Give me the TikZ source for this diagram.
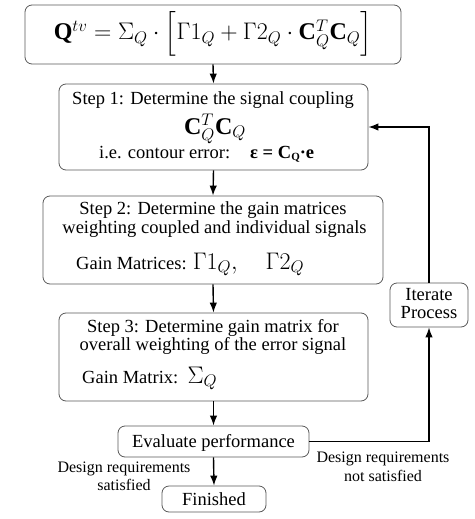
\documentclass[tikz,border=0pt]{standalone}
\usepackage{fix-cm}
\usepackage{amsmath}
\usepackage{fontspec}
\setmainfont{Liberation Serif}
\usetikzlibrary{arrows.meta}
\tikzset{
  box/.style={draw=black!65, line width=0.8pt, rounded corners=7pt},
  txt/.style={anchor=base, inner sep=0pt, font=\fontsize{18.5}{20}\selectfont},
  txtw/.style={anchor=base west, inner sep=0pt, font=\fontsize{18.5}{20}\selectfont},
  small/.style={anchor=base, inner sep=0pt, font=\fontsize{16}{17}\selectfont},
  mth/.style={anchor=base, inner sep=0pt, font=\fontsize{24}{28}\selectfont},
  flow/.style={line width=1.4pt, -{Latex[length=10pt,width=7.5pt]}},
}
\begin{document}
\begin{tikzpicture}[x=1pt,y=-1pt]
\useasboundingbox (0,0) rectangle (474,519);
% boxes
\node[box, minimum width=376pt, minimum height=59pt] (q) at (213,34.5) {};
\node[box, minimum width=309pt, minimum height=86pt] (s1) at (213.5,127) {};
\node[box, minimum width=340pt, minimum height=88pt] (s2) at (213,240) {};
\node[box, minimum width=309pt, minimum height=88pt] (s3) at (213.5,357) {};
\node[box, minimum width=191pt, minimum height=31pt] (ev) at (213.5,441.5) {};
\node[box, minimum width=104pt, minimum height=26pt] (fin) at (214,499) {};
\node[box, minimum width=78pt, minimum height=44pt] (it) at (429,305) {};
% top formula
\node[mth] (qf) at (213,40) {$\mathbf{Q}^{tv} = \Sigma_Q \cdot \Bigl[\Gamma 1_Q + \Gamma 2_Q \cdot \mathbf{C}_Q^T\mathbf{C}_Q\Bigr]$};
% step 1
\node[txt] (s1a) at (213,104) {Step 1: Determine the signal coupling};
\node[mth] (s1b) at (215,134) {$\mathbf{C}_Q^T\mathbf{C}_Q$};
\node[txtw] (s1c) at (99,158) {i.e. contour error:};
\node[txtw] (s1d) at (250,158) {\textbf{ε = C{\fontsize{11}{11}\selectfont\raisebox{-2pt}{Q}}·e}};
% step 2
\node[txt] (s2a) at (213,214) {Step 2: Determine the gain matrices};
\node[txt] (s2b) at (214.5,233) {weighting coupled and individual signals};
\node[txtw] (s2c) at (76,269) {Gain Matrices: {\fontsize{24}{28}\selectfont$\Gamma 1_Q,\quad \Gamma 2_Q$}};
% step 3
\node[txt] (s3a) at (213,332) {Step 3: Determine gain matrix for};
\node[txt] (s3b) at (213,350) {overall weighting of the error signal};
\node[txtw] (s3c) at (82,383) {Gain Matrix:\enspace{\fontsize{24}{28}\selectfont$\Sigma_Q$}};
% evaluate, finished, iterate
\node[txt] (evt) at (213.5,447) {Evaluate performance};
\node[txt] (fint) at (214,505) {Finished};
\node[txt] (it1) at (429,300) {Iterate};
\node[txt] (it2) at (429,318) {Process};
% labels
\node[small] (l1a) at (124,472) {Design requirements};
\node[small] (l1b) at (124,490) {satisfied};
\node[small] (l2a) at (383,462) {Design requirements};
\node[small] (l2b) at (383,481) {not satisfied};
% connectors
\draw[flow] (q.south) -- (s1.north);
\draw[flow] (s1.south) -- (s2.north);
\draw[flow] (s2.south) -- (s3.north);
\draw[flow] (s3.south) -- (ev.north);
\draw[flow] (ev.south) -- (fin.north);
\draw[flow] (ev.east) -| (it.south);
\draw[flow] (it.north) |- (s1.east);
\end{tikzpicture}
\end{document}
